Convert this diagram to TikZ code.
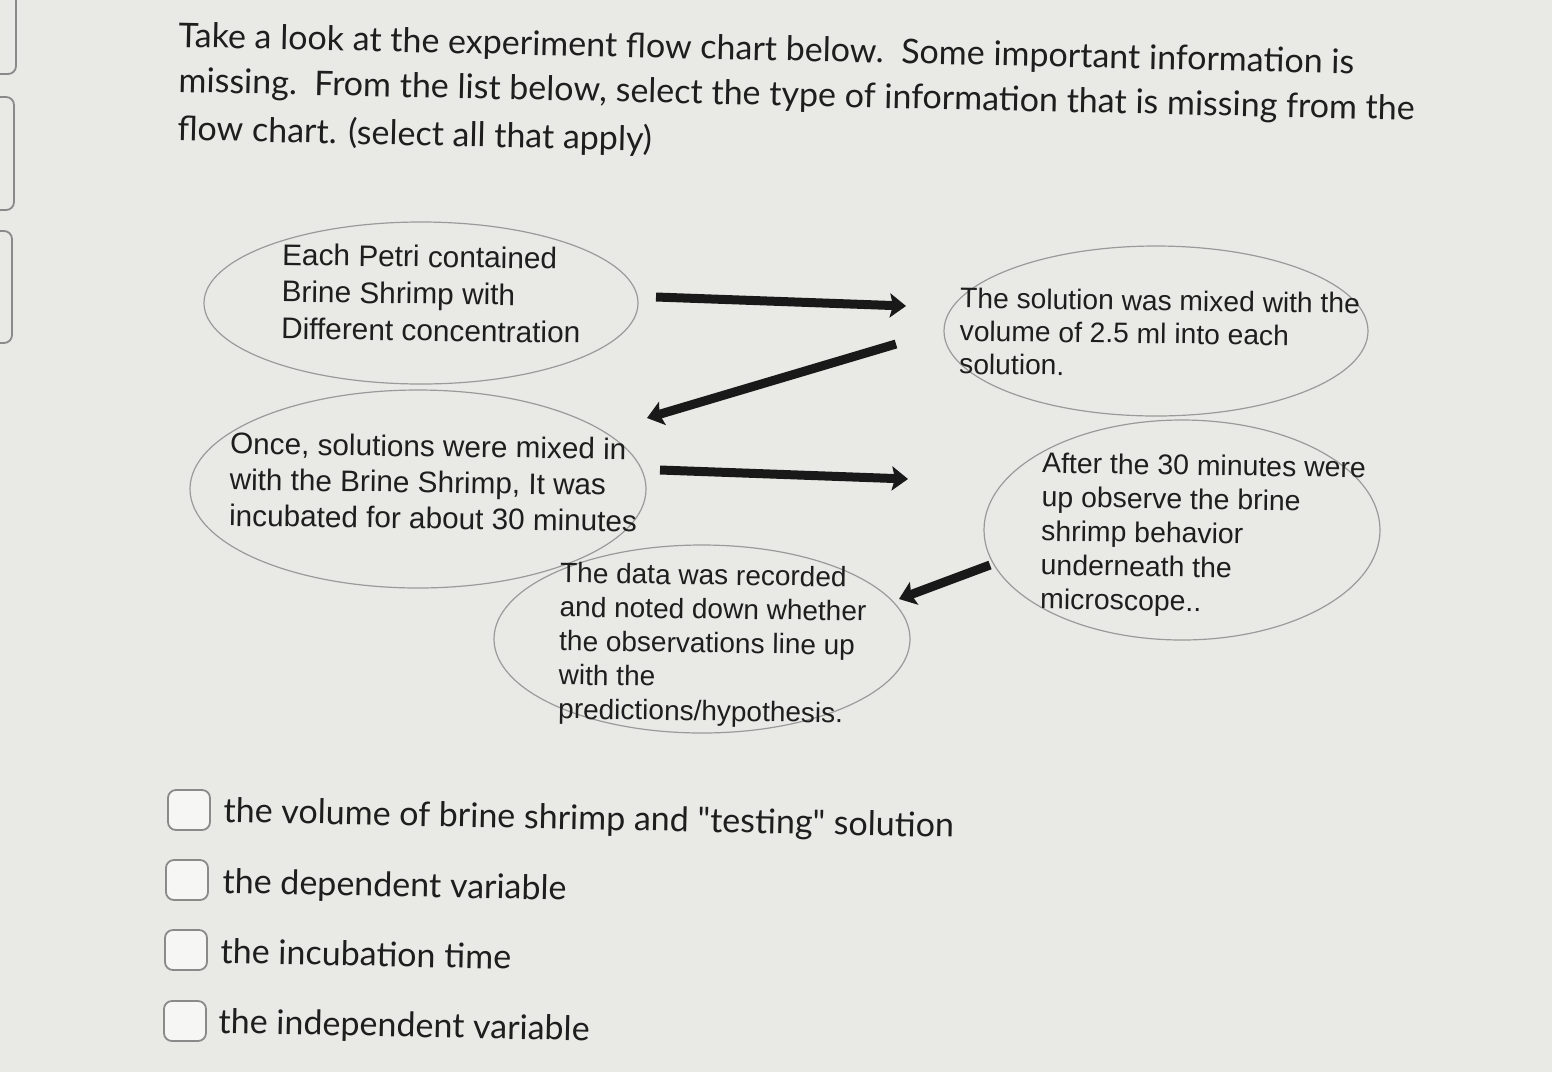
\documentclass[tikz,border=0pt]{standalone}
\usepackage{fontspec}
\setmainfont{Lato}
\newfontfamily\latof{Lato}
\newfontfamily\arialf{Liberation Sans}
\usetikzlibrary{shapes.geometric,arrows.meta}
\definecolor{bgc}{HTML}{E9E9E6}
\definecolor{ellc}{HTML}{9A9A9A}
\definecolor{txtc}{HTML}{1E1E1E}
\definecolor{boxc}{HTML}{8A8A8A}
\begin{document}
\begin{tikzpicture}[x=0.5pt,y=-0.5pt,
  bubble/.style={draw=ellc, line width=0.6pt, ellipse, inner sep=0pt},
  btext/.style 2 args={font=\arialf\fontsize{#1}{#2}\selectfont, text=txtc, align=left, anchor=north west, inner sep=0pt, rotate=-0.8},
  qline/.style={font=\latof\fontsize{17}{20}\selectfont, text=txtc, anchor=base west, inner sep=0pt, rotate=-1.3},
  optline/.style={font=\latof\fontsize{17}{20}\selectfont, text=txtc, anchor=base west, inner sep=0pt, rotate=-1.2},
  cbox/.style={draw=boxc, line width=0.9pt, rounded corners=4pt, fill=white!60!bgc, minimum width=21pt, minimum height=20pt, inner sep=0pt},
  edgebox/.style={draw=boxc, line width=0.9pt, rounded corners=4pt},
  bigarrow/.style={line width=4.5pt, -{Stealth[length=8pt,width=12pt,inset=1.5pt]}, black!90}
]
\fill[bgc] (0,0) rectangle (1552,1072);
\useasboundingbox (0,0) rectangle (1552,1072);

% partial boxes at the left edge
\draw[edgebox] (-20,-10) -- (16,-10) -- (16,74) -- (-20,74);
\draw[edgebox] (-20,97) -- (14,97) -- (14,210) -- (-20,210);
\draw[edgebox] (-20,231) -- (12,231) -- (12,343) -- (-20,343);

% question
\node[qline] (q1) at (178,47) {Take a look at the experiment flow chart below.\ \ Some important information is};
\node[qline] (q2) at (178,92) {missing.\ \ From the list below, select the type of information that is missing from the};
\node[qline] (q3) at (177,140) {flow chart. (select all that apply)};

% ellipses
\node[bubble, minimum width=217pt, minimum height=81pt] (e1) at (421,303) {};
\node[bubble, minimum width=212pt, minimum height=85pt] (e2) at (1156,331) {};
\node[bubble, minimum width=228pt, minimum height=99pt] (e3) at (418,489) {};
\node[bubble, minimum width=198pt, minimum height=110pt] (e4) at (1182,530) {};
\node[bubble, minimum width=208pt, minimum height=94pt] (e5) at (702,639) {};

\node[btext={14.9}{18.5}] (t1) at (282,243) {Each Petri contained\\Brine Shrimp with\\Different concentration};
\node[btext={14.1}{16.5}] (t2) at (960,287) {The solution was mixed with the\\volume of 2.5 ml into each\\solution.};
\node[btext={14.85}{18}] (t3) at (230,432) {Once, solutions were mixed in\\with the Brine Shrimp, It was\\incubated for about 30 minutes};
\node[btext={14.2}{17}] (t4) at (1042,452) {After the 30 minutes were\\up observe the brine\\shrimp behavior\\underneath the\\microscope..};
\node[btext={14}{17}] (t5) at (560,562) {The data was recorded\\and noted down whether\\the observations line up\\with the\\predictions/hypothesis.};

% arrows
\coordinate (a1s) at (656,297);
\coordinate (a1e) at (906,306);
\coordinate (a2s) at (896,344);
\coordinate (a2e) at (647,418);
\coordinate (a3s) at (660,470);
\coordinate (a3e) at (908,479);
\coordinate (a4s) at (990,565);
\coordinate (a4e) at (899,599);
\draw[bigarrow] (a1s) -- (a1e);
\draw[bigarrow] (a2s) -- (a2e);
\draw[bigarrow] (a3s) -- (a3e);
\draw[bigarrow] (a4s) -- (a4e);

% options
\node[cbox] (c1) at (189,810) {};
\node[cbox] (c2) at (187,880) {};
\node[cbox] (c3) at (186,950) {};
\node[cbox] (c4) at (185,1021) {};
\node[optline] (o1) at (223,822) {the volume of brine shrimp and "testing" solution};
\node[optline] (o2) at (222,893) {the dependent variable};
\node[optline] (o3) at (220,963) {the incubation time};
\node[optline] (o4) at (218,1033) {the independent variable};
\end{tikzpicture}
\end{document}
